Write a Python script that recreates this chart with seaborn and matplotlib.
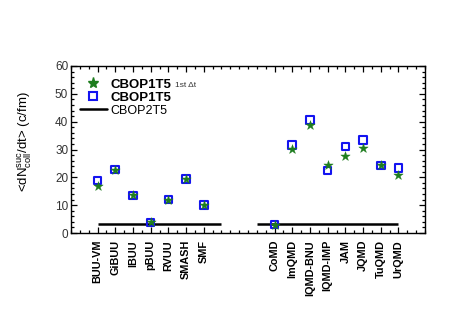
import numpy as np
import pandas as pd
import matplotlib
matplotlib.use("Agg")
import matplotlib.pyplot as plt
from matplotlib.ticker import MultipleLocator
from matplotlib.lines import Line2D
import seaborn as sns

# Transport codes, grouped by family
buu_codes = ["BUU-VM", "GiBUU", "IBUU", "pBUU", "RVUU", "SMASH", "SMF"]
qmd_codes = ["CoMD", "ImQMD", "IQMD-BNU", "IQMD-IMP", "JAM", "JQMD", "TuQMD", "UrQMD"]

# Successful collision rate <dN/dt> (c/fm)
buu_first_dt = [17.0, 22.8, 13.5, 3.8, 12.0, 19.5, 10.0]
buu_cbop1 = [18.8, 22.8, 13.5, 3.8, 12.0, 19.5, 10.0]
qmd_first_dt = [3.0, 30.2, 38.7, 24.3, 27.8, 30.7, 24.6, 20.8]
qmd_cbop1 = [3.0, 31.6, 40.6, 22.5, 31.1, 33.4, 24.2, 23.4]
cbop2_value = 3.3

sns.set_style("ticks")
plt.rcParams["font.family"] = ["Liberation Sans", "DejaVu Sans"]
plt.rcParams["mathtext.fontset"] = "custom"
plt.rcParams["mathtext.rm"] = "Liberation Sans"
plt.rcParams["mathtext.it"] = "Liberation Sans"
plt.rcParams["text.color"] = "black"
plt.rcParams["axes.labelcolor"] = "black"
plt.rcParams["xtick.color"] = "black"
plt.rcParams["ytick.color"] = "black"
plt.rcParams["axes.edgecolor"] = "black"

group_gap = 3
buu_pos = np.arange(len(buu_codes))
qmd_pos = np.arange(len(qmd_codes)) + len(buu_codes) + group_gap

df = pd.DataFrame({
    "pos": np.concatenate([buu_pos, qmd_pos]),
    "first_dt": buu_first_dt + qmd_first_dt,
    "cbop1": buu_cbop1 + qmd_cbop1,
})

W, H = 474, 335
fig = plt.figure(figsize=(W / 100, H / 100), dpi=100)
ax = fig.add_axes([71 / W, 1 - 233 / H, (425 - 71) / W, (233 - 66) / H])

green = "#1e7d1e"
blue = "#1414f0"

# Reference lines for CBOP2T5, one per family
ax.hlines(cbop2_value, buu_pos[0], buu_pos[-1] + 1, color="black", lw=1.8, zorder=1)
ax.hlines(cbop2_value, qmd_pos[0] - 1, qmd_pos[-1], color="black", lw=1.8, zorder=1)

sns.scatterplot(data=df, x="pos", y="cbop1", marker="s", s=30, facecolor="none",
                edgecolor=blue, linewidth=1.5, ax=ax, zorder=3, legend=False)
sns.scatterplot(data=df, x="pos", y="first_dt", marker="*", s=50, color=green,
                edgecolor=green, linewidth=0.3, ax=ax, zorder=4, legend=False)

ax.set_xlim(-1.5, qmd_pos[-1] + 1.5)
ax.set_ylim(0, 60)
ax.set_xticks(np.concatenate([buu_pos, qmd_pos]))
ax.set_xticklabels(buu_codes + qmd_codes, rotation=90, fontweight="bold", fontsize=7.8)
ax.xaxis.set_minor_locator(MultipleLocator(0.5))
ax.yaxis.set_major_locator(MultipleLocator(10))
ax.yaxis.set_minor_locator(MultipleLocator(2))
ax.tick_params(which="both", direction="in", top=True, right=True, width=0.9)
ax.tick_params(which="major", length=4)
ax.tick_params(which="minor", length=2)
ax.tick_params(axis="y", labelsize=8.5, labelcolor="#333333", pad=2)
ax.tick_params(axis="x", pad=5)
for s in ax.spines.values():
    s.set_linewidth(1.0)

ax.set_xlabel("")
ax.set_ylabel(r"<dN$^{\rm suc}_{\rm coll}$/dt> (c/fm)", fontsize=9.5, labelpad=6)
ax.yaxis.set_label_coords(-0.105, 0.55)

handles = [
    Line2D([], [], marker="*", ls="none", color=green, markersize=8),
    Line2D([], [], marker="s", ls="none", markerfacecolor="none",
           markeredgecolor=blue, markeredgewidth=1.5, markersize=6),
    Line2D([], [], color="black", lw=1.8),
]
leg = ax.legend(handles, ["CBOP1T5", "CBOP1T5", "CBOP2T5"], loc="upper left",
                bbox_to_anchor=(0.0, 0.98), frameon=False, fontsize=9.5,
                handlelength=2.0, handletextpad=0.3, labelspacing=0.05,
                borderaxespad=0.3)
texts = leg.get_texts()
texts[0].set_fontweight("bold")
texts[1].set_fontweight("bold")
texts[2].set_fontsize(9)
for t in texts:
    t.set_color("black")

# Small time-step note after the first legend entry
fig.canvas.draw()
bb = texts[0].get_window_extent()
fig.text((bb.x1 + 4) / W, (bb.y0 + 2) / H, "1st \u0394t", fontsize=6,
         va="bottom", ha="left", color="#333333")

fig.savefig("out.png", dpi=100)
